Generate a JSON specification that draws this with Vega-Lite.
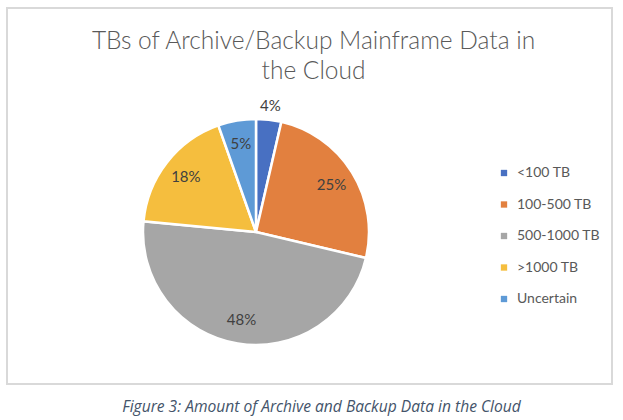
{
  "$schema": "https://vega.github.io/schema/vega-lite/v6.json",
  "background": "white",
  "padding": {"left": 6, "top": 7, "right": 5, "bottom": 5},
  "title": {
    "text": "Figure 3:  Amount of Archive and Backup Data in the Cloud",
    "orient": "bottom",
    "anchor": "middle",
    "offset": 15,
    "dx": 12,
    "font": "Open Sans",
    "fontSize": 15.6,
    "fontStyle": "italic",
    "fontWeight": "normal",
    "color": "#44546A"
  },
  "vconcat": [
    {
      "width": 605,
      "height": 376,
      "title": {
        "text": ["TBs of Archive/Backup Mainframe Data in", "the Cloud"],
        "orient": "top",
        "anchor": "middle",
        "offset": -76,
        "dx": 4,
        "font": "Lato",
        "fontSize": 24.5,
        "fontWeight": 300,
        "lineHeight": 30,
        "color": "#595959"
      },
      "data": {
        "values": [
          {"category": "<100 TB", "share": 0.036, "rank": 1},
          {"category": "100-500 TB", "share": 0.251, "rank": 2},
          {"category": "500-1000 TB", "share": 0.478, "rank": 3},
          {"category": ">1000 TB", "share": 0.181, "rank": 4},
          {"category": "Uncertain", "share": 0.054, "rank": 5}
        ]
      },
      "encoding": {
        "theta": {"field": "share", "type": "quantitative", "stack": true},
        "order": {"field": "rank", "type": "quantitative"},
        "x": {"value": 249},
        "y": {"value": 224}
      },
      "layer": [
        {
          "mark": {"type": "arc", "outerRadius": 113, "stroke": "white", "strokeWidth": 2.5},
          "encoding": {
            "color": {
              "field": "category",
              "type": "nominal",
              "scale": {
                "domain": ["<100 TB", "100-500 TB", "500-1000 TB", ">1000 TB", "Uncertain"],
                "range": ["#4870C2", "#E2803F", "#A6A6A6", "#F5BE3E", "#5E9AD6"]
              },
              "legend": {
                "title": null,
                "orient": "none",
                "legendX": 490,
                "legendY": 158,
                "padding": 0,
                "symbolType": "square",
                "symbolSize": 40,
                "symbolStrokeWidth": 0,
                "labelFont": "Lato",
                "labelFontSize": 14,
                "labelColor": "#595959",
                "labelOffset": 6,
                "rowPadding": 17.5
              }
            }
          }
        },
        {
          "mark": {"type": "text", "radius": 89, "font": "Lato", "fontSize": 15, "color": "#404040"},
          "encoding": {
            "text": {
              "field": "share",
              "type": "quantitative",
              "format": ".0%",
              "condition": {"test": "datum.share < 0.045", "value": ""}
            }
          }
        },
        {
          "mark": {"type": "text", "radius": 127, "font": "Lato", "fontSize": 15, "color": "#404040"},
          "encoding": {
            "text": {
              "field": "share",
              "type": "quantitative",
              "format": ".0%",
              "condition": {"test": "datum.share >= 0.045", "value": ""}
            }
          }
        }
      ]
    }
  ],
  "config": {
    "view": {"stroke": "#D9D9D9", "strokeWidth": 2}
  }
}
